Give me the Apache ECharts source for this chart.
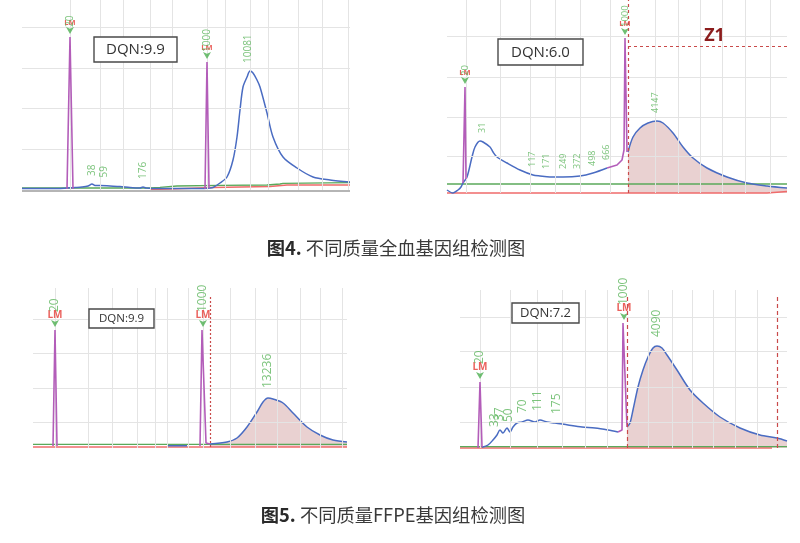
<!DOCTYPE html>
<html><head><meta charset="utf-8">
<script src="https://cdn.jsdelivr.net/npm/echarts@6.0.0/dist/echarts.min.js"></script>
<style>html,body{margin:0;padding:0;background:#fff}#c{width:800px;height:543px}</style>
</head><body><div id="c"></div><script>
// ---------- Panel 1 (whole blood, DQN 9.9) ----------
const p1Blue = [[0,1.5],[18,1.5],[38,1.5],[53,2.5],[60,3],[66,4],[70,6],[73,4.5],[78,4.5],[88,4],[98,3.5],[108,2.5],[118,2],[121,3],[124,2],[138,1.5],[158,1.5],[178,1.5],[188,2],[191,2.5],[198,7],[205,13],[211,30],[215,53],[218,80],[221,103],[225,113],[228,119],[231,117],[235,110],[238,103],[245,77],[251,53],[261,33],[275,22],[291,13],[308,10],[328,8]];
const p1Green = [[0,2],[128,2],[138,2.7],[155,4],[198,4.7],[245,5],[258,6],[261,6.7],[328,7.3]];
const p1Red = [[128,0.5],[148,1],[191,2.5],[248,3.5],[265,5],[328,5]];
const p1Ladder = [[45,1],[48,153],[51,1],null,[183,1],[185,128],[187,2]];
const p1Markers = [[48,153,'20'],[185,128,'1000']];
const p1Peaks = [[70,6,'38'],[82,4.5,'59'],[121,3,'176'],[226,119,'10081']];
const p1VGrid = [48,78,101,128,150,185,203,228,246,276,300,326];
const p1HGrid = [41,82,122,163];

// ---------- Panel 2 (whole blood, DQN 6.0) ----------
const p2Blue = [[0,3],[6,0],[11,3],[14,6],[16,10],[20,16],[25,36],[28,46],[33,52],[36,51],[43,46],[46,41],[50,36],[60,30],[73,23],[86,18],[93,17],[103,16],[116,16],[133,17],[146,20],[160,25]];
const p2BluePeak = [[181,41],[186,56],[193,65],[201,70],[210,72],[216,70],[226,60],[236,46],[246,35],[260,25],[280,16],[300,10],[320,7],[340,5]];
const p2Green = [[0,9],[340,9]];
const p2Red = [[0,0],[320,0],[340,1.5]];
const p2Ladder = [[16,10],[18,106],[19,14],null,[160,25],[170,28],[175,33],[177,43],[178,155],[180,41]];
const p2Markers = [[18,106,'20'],[178,155,'1000']];
const p2Peaks = [[35,52,'31'],[85,18,'117'],[99,16,'171'],[116,16,'249'],[130,16,'372'],[145,19,'498'],[159,25,'666'],[208,72,'4147']];
const p2Zone = {name:'Z1', start:181, end:340, level:147};
const p2VGrid = [19,53,83,108,133,163,208,231,253,275,298,323];
const p2HGrid = [37,76,116,157];

// ---------- Panel 3 (FFPE, DQN 9.9) ----------
const p3Blue = [[134,1.3],[154,1.3]];
const p3BluePeak = [[177,3],[194,5],[204,9],[214,20],[224,35],[230,45],[235,49],[240,48],[250,44],[260,34],[274,20],[287,12],[300,7],[314,5]];
const p3Green = [[0,2.7],[314,2.7]];
const p3Red = [[0,0],[314,0]];
const p3Ladder = [[20,1],[22,117],[24,1],null,[167,1],[169,117],[171,117],[173,4],[177,3]];
const p3Markers = [[22,117,'20'],[170,117,'1000']];
const p3Peaks = [[235,49,'13236']];
const p3Cuts = [177];
const p3VGrid = [22,55,79,104,122,134,155,170,197,222,244,267,287,309];
const p3HGrid = [25,59,94,128];

// ---------- Panel 4 (FFPE, DQN 7.2) ----------
const p4Blue = [[22,0.7],[28,3],[33,8],[37,13],[40,18],[43,15],[47,20],[50,16],[53,21],[57,25],[62,26],[68,28],[75,26],[80,28],[87,26],[95,25],[108,23],[122,21],[135,20],[148,18],[158,16]];
const p4BluePeak = [[167,21],[170,25],[173,38],[178,61],[183,78],[188,91],[193,100],[197,102],[202,100],[207,93],[217,78],[230,58],[243,45],[260,31],[280,20],[300,13],[317,10],[327,7]];
const p4Green = [[0,1.3],[327,1.3]];
const p4Red = [[0,0],[312,0]];
const p4Ladder = [[18,0],[20,66],[22,1],null,[158,16],[162,18],[163,125],[165,125],[167,21]];
const p4Markers = [[20,66,'20'],[164,125,'1000']];
const p4Peaks = [[35,12,'33'],[40,18,'37'],[49,17,'50'],[63,26,'70'],[78,28,'111'],[97,25,'175'],[197,102,'4090']];
const p4Cuts = [167,317];
const p4VGrid = [20,50,77,102,125,147,188,212,232,253,275,297];
const p4HGrid = [26,61,97,131];

const dqnValues = ['DQN:9.9','DQN:6.0','DQN:9.9','DQN:7.2'];
const captions = ['图4.|不同质量全血基因组检测图','图5.|不同质量FFPE基因组检测图'];

// ---------- styles / layout ----------
const C = {blue:'#4a6cc2', purple:'#b35db9', green:'#5aa95a', red:'#ef6b6b', lab:'#5db55d', lm:'#e53935',
  fill:'rgba(180,100,100,0.42)', grid:'#e4e4e4', cut:'#c94a4a'};
const FONT = '"Open Sans","Noto Sans",sans-serif';

const panels = [
  {grid:{left:22,top:0,width:328,height:195}, xMax:328, yMin:-5, yMax:190, vSpan:[0,190],
   vg:p1VGrid, hg:p1HGrid, blue:p1Blue, fill:null, green:p1Green, red:p1Red, ladder:p1Ladder,
   markers:p1Markers, peaks:p1Peaks, pf:10, mf:10, mg:10, pg:8, lmf:7.5, axisLine:true, cuts:[], cutTop:0},
  {grid:{left:447,top:0,width:340,height:196}, xMax:340, yMin:-3, yMax:193, vSpan:[0,193],
   vg:p2VGrid, hg:p2HGrid, blue:p2Blue.concat([null],p2BluePeak), fill:p2BluePeak, green:p2Green, red:p2Red, ladder:p2Ladder,
   markers:p2Markers, peaks:p2Peaks, pf:9, mf:9.5, mg:11, pg:8, lmf:7.5, zone:p2Zone, cuts:[], cutTop:0},
  {grid:{left:33,top:275,width:314,height:181}, xMax:314, yMin:-9, yMax:172, vSpan:[-1,159],
   vg:p3VGrid, hg:p3HGrid, blue:p3Blue.concat([null],p3BluePeak), fill:p3BluePeak, green:p3Green, red:p3Red, ladder:p3Ladder,
   markers:p3Markers, peaks:p3Peaks, pf:12, mf:12, mg:18, pg:10, lmf:10, cuts:p3Cuts, cutTop:152, cutType:[2,2]},
  {grid:{left:460,top:275,width:327,height:181}, xMax:327, yMin:-8, yMax:173, vSpan:[0,158],
   vg:p4VGrid, hg:p4HGrid, blue:p4Blue.concat([null],p4BluePeak), fill:p4BluePeak, green:p4Green, red:p4Red, ladder:p4Ladder,
   markers:p4Markers, peaks:p4Peaks, pf:12, mf:12, mg:18, pg:9, lmf:10, cuts:p4Cuts, cutTop:154, cutType:[4,3]}
];

const grids=[], xAxes=[], yAxes=[], series=[];
function rotLabel(size, dist){
  return {show:true, rotate:90, position:'top', distance:dist, align:'left', verticalAlign:'middle',
    fontSize:size, color:C.lab, fontFamily:FONT, formatter:p=>p.value[2]};
}
panels.forEach((P,i)=>{
  grids.push(P.grid);
  xAxes.push({type:'value', gridIndex:i, min:0, max:P.xMax, show:false});
  yAxes.push({type:'value', gridIndex:i, min:P.yMin, max:P.yMax, show:false});
  const base = {xAxisIndex:i, yAxisIndex:i, animation:false, silent:true};
  // grid lines
  const ml = [];
  P.vg.forEach(x=>ml.push([{coord:[x,P.vSpan[0]]},{coord:[x,P.vSpan[1]]}]));
  P.hg.forEach(y=>ml.push([{coord:[0,y]},{coord:[P.xMax,y]}]));
  if(P.axisLine) ml.push([{coord:[0,-1],lineStyle:{color:'#b5b5b5',width:2}},{coord:[P.xMax,-1]}]);
  series.push(Object.assign({}, base, {type:'line', data:[], z:1,
    markLine:{silent:true, symbol:['none','none'], label:{show:false}, animation:false,
      lineStyle:{color:C.grid, width:1, type:'solid'}, data:ml}}));
  // fill under main peak
  if(P.fill) series.push(Object.assign({}, base, {type:'line', data:P.fill, z:2, showSymbol:false, smooth:0.3,
    lineStyle:{width:0}, areaStyle:{color:C.fill, origin:0}}));
  // cut / zone lines
  const cl = [];
  P.cuts.forEach(x=>cl.push([{coord:[x,0]},{coord:[x,P.cutTop]}]));
  if(P.zone){
    cl.push([{coord:[P.zone.start,0]},{coord:[P.zone.start,P.yMax]}]);
    cl.push([{coord:[P.zone.start,P.zone.level], label:{show:true, formatter:P.zone.name, position:'insideMiddleTop',
      distance:1, padding:[0,0,0,14], color:'#8b1c1c', fontSize:18, fontWeight:'bold', fontFamily:FONT}},{coord:[P.xMax,P.zone.level]}]);
  }
  series.push(Object.assign({}, base, {type:'line', data:P.red, z:3, showSymbol:false,
    lineStyle:{color:C.red, width:1.3},
    markLine:{silent:true, symbol:['none','none'], label:{show:false}, animation:false, z:7,
      lineStyle:{color:C.cut, width:1.2, type:P.cutType||[3,3]}, data:cl}}));
  series.push(Object.assign({}, base, {type:'line', data:P.green, z:3, showSymbol:false,
    lineStyle:{color:C.green, width:1.3}}));
  series.push(Object.assign({}, base, {type:'line', data:P.blue, z:4, showSymbol:false, connectNulls:false, smooth:0.3,
    lineStyle:{color:C.blue, width:1.5}}));
  series.push(Object.assign({}, base, {type:'line', data:P.ladder, z:5, showSymbol:false, connectNulls:false,
    lineStyle:{color:C.purple, width:1.6}}));
  // LM markers
  series.push(Object.assign({}, base, {type:'scatter', data:P.markers, z:6, symbol:'arrow', symbolSize:[6,7],
    symbolRotate:180, symbolOffset:[0,-3], itemStyle:{color:'#4caf50'},
    label:{show:true, formatter:'LM', position:'top', distance:0, color:C.lm, fontSize:P.lmf, fontWeight:'bold', fontFamily:FONT}}));
  series.push(Object.assign({}, base, {type:'scatter', data:P.markers, z:6, symbolSize:0,
    label:rotLabel(P.mf, P.mg)}));
  series.push(Object.assign({}, base, {type:'scatter', data:P.peaks, z:6, symbolSize:0,
    label:rotLabel(P.pf, P.pg)}));
});

const boxes = [
  {x:94,y:37,w:83,h:25,fs:15},{x:498,y:39,w:85,h:26,fs:15},
  {x:89,y:309,w:65,h:19,fs:11.5},{x:512,y:303,w:67,h:20,fs:13}
];
const graphic = [];
boxes.forEach((b,i)=>{
  graphic.push({type:'rect', shape:{x:b.x,y:b.y,width:b.w,height:b.h}, z:100,
    style:{fill:'#fff', stroke:'#4a4a4a', lineWidth:1.4}});
  graphic.push({type:'text', x:b.x+b.w/2, y:b.y+b.h/2+0.5, z:101,
    style:{text:dqnValues[i], fontSize:b.fs, fontFamily:FONT, fill:'#333', align:'center', verticalAlign:'middle'}});
});
[[396,248],[393,515]].forEach((p,i)=>{
  const parts = captions[i].split('|');
  graphic.push({type:'text', x:p[0], y:p[1], z:101,
    style:{text:'{b|'+parts[0]+'} '+parts[1], fontSize:18.3, fontFamily:'"Noto Sans CJK SC"', fill:'#3a3a3a',
      align:'center', verticalAlign:'middle',
      rich:{b:{fontSize:18.3, fontWeight:'bold', fontFamily:'"Noto Sans CJK SC"', fill:'#2a2a2a'}}}});
});

const chart = echarts.init(document.getElementById('c'), null, {renderer:'canvas'});
chart.setOption({animation:false, backgroundColor:'#fff', grid:grids, xAxis:xAxes, yAxis:yAxes, series, graphic});
</script></body></html>
